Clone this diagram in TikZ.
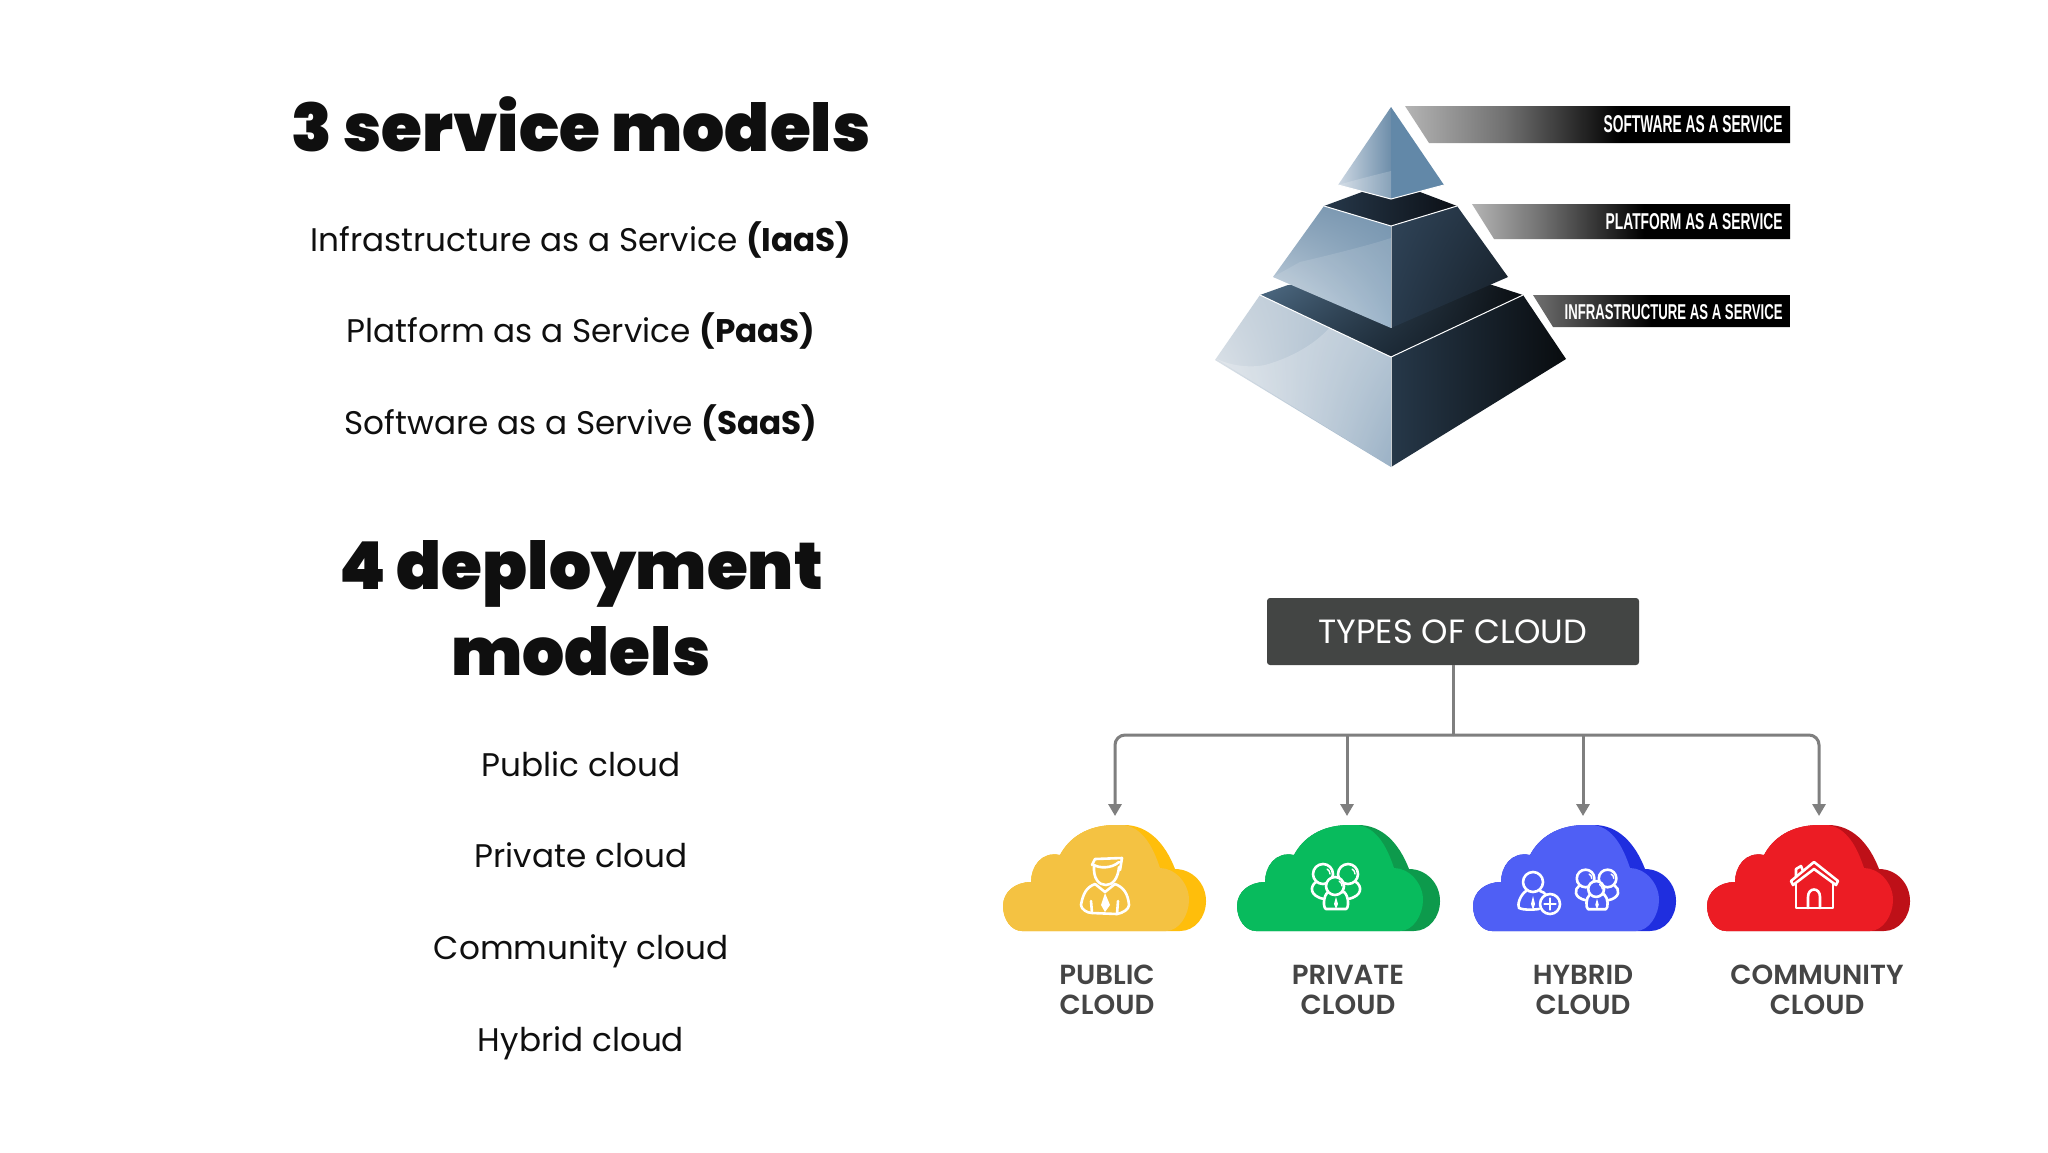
\documentclass[tikz,border=0pt]{standalone}
\usepackage{fontspec}
\usepackage{graphicx}
\setmainfont{Poppins}
\newfontfamily\pheavy{Poppins Black}
\newfontfamily\pbold{Poppins Bold}
\newfontfamily\pmed{Poppins SemiBold}
\newfontfamily\bannerfont{Liberation Sans Bold}
\usetikzlibrary{arrows.meta,shadings}
\definecolor{bandL}{HTML}{B4B4B4}
\definecolor{bandM}{HTML}{707070}
\definecolor{inkc}{HTML}{0F0F0F}
\definecolor{boxc}{HTML}{434544}
\definecolor{linec}{HTML}{7F7F7F}
\definecolor{labelc}{HTML}{454545}
\definecolor{yelD}{HTML}{FFBE0B}\definecolor{yelL}{HTML}{F4C242}
\definecolor{grnD}{HTML}{0D9A4C}\definecolor{grnL}{HTML}{08BB5D}
\definecolor{bluD}{HTML}{1F2EDF}\definecolor{bluL}{HTML}{4F5FF5}
\definecolor{redD}{HTML}{BE1018}\definecolor{redL}{HTML}{EC1C24}
\definecolor{pa}{HTML}{4F6C85}\definecolor{pb}{HTML}{0A0E12}\definecolor{pc}{HTML}{2C4358}
\definecolor{pd}{HTML}{CBD5DE}\definecolor{pe}{HTML}{AEC0D0}\definecolor{pf}{HTML}{EEF0F3}\definecolor{pg}{HTML}{7F9CB6}
\definecolor{ph}{HTML}{263849}\definecolor{pi}{HTML}{090C0F}
\definecolor{pj}{HTML}{26384A}\definecolor{pk}{HTML}{0C1016}
\definecolor{pl}{HTML}{829DB5}\definecolor{pm}{HTML}{7694AE}\definecolor{pn}{HTML}{D4DEE7}\definecolor{po}{HTML}{8EAAC2}
\definecolor{pp}{HTML}{304458}\definecolor{pq}{HTML}{202E3C}\definecolor{pr}{HTML}{283A4C}\definecolor{ps}{HTML}{141C24}
\definecolor{pt}{HTML}{CDD8E3}\definecolor{pu}{HTML}{6E8EAA}\definecolor{pv}{HTML}{6288A8}
\newcommand\fitbox[3]{\resizebox{#1pt}{#2pt}{\bannerfont #3}}
\pgfdeclarehorizontalshading{banA}{100bp}{color(0bp)=(bandL);color(25bp)=(bandL);color(38bp)=(bandM);color(53bp)=(black);color(100bp)=(black)}
\pgfdeclarehorizontalshading{banB}{100bp}{color(0bp)=(bandL);color(25bp)=(bandL);color(36bp)=(bandM);color(52bp)=(black);color(100bp)=(black)}
\pgfdeclarehorizontalshading{banC}{100bp}{color(0bp)=(bandM);color(25bp)=(bandM);color(48bp)=(black);color(100bp)=(black)}
\tikzset{
 headline/.style={font=\pheavy\fontsize{33.1}{36}\selectfont,text=inkc,inner sep=0pt,anchor=center},
 bodyline/.style={font=\fontsize{16.35}{20}\selectfont,text=inkc,inner sep=0pt,anchor=base},
 cloudlabel/.style={font=\pmed\fontsize{13.8}{15}\selectfont,text=labelc,inner sep=0pt,align=center,anchor=center},
 bannertext/.style={text=white,inner sep=0pt,anchor=east},
 conn/.style={draw=linec,line width=1.5pt},
 arrowconn/.style={conn,-{Triangle[length=6pt,width=6.5pt,fill=linec]}},
 icon/.style={draw=white,line width=1.3pt,line cap=round,line join=round},
 faceedge/.style={draw=white,line width=0.5pt},
}
\newcommand\cloudshape[4]{%
 \begin{scope}[shift={(#1,#2)}]
 \fill[#3] (19,106) -- (177,106) .. controls (192,106) and (203,92) .. (203,76)
  .. controls (203,58) and (189,44) .. (172,44) .. controls (162,18) and (145,0) .. (121,0)
  -- (112,0) .. controls (84,0) and (66,13) .. (57,30) .. controls (38,26) and (28,42) .. (28,57)
  .. controls (12,57) and (0,67) .. (0,81) .. controls (0,94) and (8,106) .. (19,106) -- cycle;
 \fill[#4] (19,106) -- (163,106) .. controls (176,106) and (186,90) .. (186,75)
  .. controls (186,58) and (172,43) .. (157,43) .. controls (150,22) and (140,3) .. (121,0)
  -- (112,0) .. controls (84,0) and (66,13) .. (57,30) .. controls (38,26) and (28,42) .. (28,57)
  .. controls (12,57) and (0,67) .. (0,81) .. controls (0,94) and (8,106) .. (19,106) -- cycle;
 \end{scope}}
% #1,#2 centre, #3 scale, #4 cloud colour
\newcommand\groupicon[4]{%
 \begin{scope}[shift={(#1,#2)},x=#3*0.5pt,y=#3*-0.5pt]
 \draw[icon] (-13,-12) circle[radius=10];
 \draw[icon] (12,-12) circle[radius=10];
 \draw[icon] (-20,-4) .. controls (-26,0) and (-27,10) .. (-12,13);
 \draw[icon] (20,-4) .. controls (26,0) and (27,10) .. (12,13);
 \draw[icon,fill=#4] (-8,6) .. controls (-13,10) and (-13,22) .. (-10,23) -- (10,23) .. controls (13,22) and (13,10) .. (8,6) -- cycle;
 \draw[icon,fill=#4] (-1,0) circle[radius=9];
 \fill[white] (0,11) -- (-2,18) -- (0,23) -- (2,18) -- cycle;
 \draw[icon,line width=.7pt] (-9,-17) .. controls (-7,-16) and (-6,-14) .. (-6,-12);
 \draw[icon,line width=.7pt] (16,-17) .. controls (18,-16) and (19,-14) .. (19,-12);
 \draw[icon,line width=.7pt] (3,-5) .. controls (5,-4) and (6,-2) .. (6,0);
 \end{scope}}
\begin{document}
\begin{tikzpicture}[x=0.5pt,y=-0.5pt]
\useasboundingbox (0,0) rectangle (2048,1152);
\fill[white] (0,0) rectangle (2048,1152);
% left texts
\node[headline] (h1) at (581,124) {3 service models};
\node[bodyline] (b1) at (581,251) {Infrastructure as a Service {\pbold (IaaS)}};
\node[bodyline] (b2) at (581,342) {Platform as a Service {\pbold (PaaS)}};
\node[bodyline] (b3) at (581,434) {Software as a Servive {\pbold (SaaS)}};
\node[headline] (h2) at (581,574) {4 deployment};
\node[headline] (h3) at (581,651.5) {models};
\node[bodyline] (d1) at (581,776) {Public cloud};
\node[bodyline] (d2) at (581,867) {Private cloud};
\node[bodyline] (d3) at (581,959) {Community cloud};
\node[bodyline] (d4) at (581,1051) {Hybrid cloud};
% banners
\shade[shading=banA] (1405,106) -- (1790,106) -- (1790,143) -- (1429,143) -- cycle;
\shade[shading=banB] (1472,204) -- (1790,204) -- (1790,239) -- (1494,239) -- cycle;
\shade[shading=banC] (1533,295) -- (1790,295) -- (1790,327) -- (1553,327) -- cycle;
\node[bannertext] (s1) at (1783,124) {\fitbox{89.5}{8.5}{SOFTWARE AS A SERVICE}};
\node[bannertext] (s2) at (1783,222) {\fitbox{88.5}{8}{PLATFORM AS A SERVICE}};
\node[bannertext] (s3) at (1783,312) {\fitbox{109}{7.5}{INFRASTRUCTURE AS A SERVICE}};
% pyramid, bottom tier
\shade[upper left=pa,upper right=pb,lower left=pc,lower right=pb]
  (1260,295) -- (1288,285) -- (1486,283) -- (1523,295) -- (1391,357) -- cycle;
\shade[upper left=pd,upper right=pe,lower left=pf,lower right=pg]
  (1260,295) -- (1391,357) -- (1391,467) -- (1215,360) -- cycle;
\shade[left color=ph,right color=pi]
  (1391,357) -- (1523,295) -- (1566,359) -- (1391,467) -- cycle;
\begin{scope}
 \clip (1260,295) -- (1391,357) -- (1391,467) -- (1215,360) -- cycle;
 \fill[white,opacity=.22] (1215,358) .. controls (1230,366) and (1250,368) .. (1265,365)
   .. controls (1290,358) and (1315,345) .. (1332,325) -- (1391,357) -- (1391,467) -- cycle;
\end{scope}
% middle tier
\shade[left color=pj,right color=pk]
  (1324,206) -- (1362,192) -- (1420,192) -- (1457,206) -- (1391,226) -- cycle;
\shade[upper left=pl,upper right=pm,lower left=pn,lower right=po]
  (1324,206) -- (1391,226) -- (1391,328) -- (1273,277) -- cycle;
\shade[upper left=pp,upper right=pq,lower left=pr,lower right=ps]
  (1391,226) -- (1457,206) -- (1508,277) -- (1391,328) -- cycle;
\begin{scope}
 \clip (1324,206) -- (1391,226) -- (1391,328) -- (1273,277) -- cycle;
 \fill[white,opacity=.12] (1273,277) -- (1300,262) .. controls (1330,255) and (1370,245) .. (1391,238) -- (1391,328) -- cycle;
\end{scope}
% top tier
\shade[left color=pt,right color=pu] (1391,107) -- (1391,199) -- (1338,185) -- cycle;
\fill[pv] (1391,107) -- (1444,185) -- (1391,199) -- cycle;
\fill[white,opacity=.18] (1338,185) .. controls (1355,180) and (1375,175) .. (1391,171) -- (1391,199) -- cycle;
% pyramid edges
\draw[faceedge] (1260,295) -- (1391,357) -- (1523,295);
\draw[faceedge,opacity=.75] (1391,357) -- (1391,467);
\draw[faceedge] (1324,206) -- (1391,226) -- (1457,206);
\draw[faceedge,opacity=.6] (1391,226) -- (1391,328);
\draw[faceedge] (1338,185) -- (1391,199) -- (1444,185);
% chart
\node[fill=boxc,draw=none,rounded corners=1.5pt,minimum width=186pt,minimum height=33.5pt,inner sep=0pt,
      text=white,font=\fontsize{16.8}{18}\selectfont] (types) at (1453,631.5) {\raisebox{-1.6pt}{TYPES OF CLOUD}};
\coordinate (bus) at (1453,735);
\coordinate (tip1) at (1115,816);
\coordinate (tip2) at (1347,816);
\coordinate (tip3) at (1583,816);
\coordinate (tip4) at (1819,816);
\draw[conn] (types.south) -- (bus);
\draw[arrowconn,rounded corners=5pt] (bus) -| (tip1);
\draw[arrowconn] (bus -| tip2) -- (tip2);
\draw[arrowconn] (bus -| tip3) -- (tip3);
\draw[arrowconn,rounded corners=5pt] (bus) -| (tip4);
% clouds
\cloudshape{1003}{825}{yelD}{yelL}
\cloudshape{1237}{825}{grnD}{grnL}
\cloudshape{1473}{825}{bluD}{bluL}
\cloudshape{1707}{825}{redD}{redL}
% public icon
\begin{scope}[shift={(1003,825)}]
 \draw[icon] (89,40) -- (92,34) -- (119,33) -- (117,45);
 \draw[icon] (91,40) .. controls (96,43) and (108,44) .. (116,37);
 \draw[icon] (91,40) .. controls (90,54) and (96,60) .. (103,60) .. controls (110,60) and (115,53) .. (116,42);
 \draw[icon] (92,59) .. controls (84,62) and (80,68) .. (78,80) .. controls (78,84) and (84,88) .. (89,88)
   -- (114,89) .. controls (120,88) and (126,84) .. (126,80) .. controls (125,68) and (120,62) .. (112,59);
 \draw[icon] (92,59) -- (102,67) -- (112,59);
 \fill[white] (102,68) -- (98,80) -- (102,87) -- (107,80) -- cycle;
 \draw[icon] (89,88) -- (88,76);
 \draw[icon] (114,89) -- (115,76);
\end{scope}
% private icon
\groupicon{1336}{886}{1}{grnL}
% hybrid icons
\begin{scope}[shift={(1473,825)}]
 \draw[icon] (60,57) circle[radius=10];
 \draw[icon] (53,66) .. controls (47,70) and (44,80) .. (46,83) .. controls (50,85) and (58,85) .. (66,84);
 \draw[icon] (67,66) .. controls (70,67) and (72,68) .. (73,70);
 \fill[white] (60,71) -- (58,79) -- (60,85) -- (62,79) -- cycle;
 \draw[icon] (77,79) circle[radius=10];
 \draw[icon] (71.5,79) -- (82.5,79);
 \draw[icon] (77,73.5) -- (77,84.5);
\end{scope}
\groupicon{1597}{889}{.88}{bluL}
% community icon
\begin{scope}[shift={(1707,825)}]
 \draw[icon] (84,56) -- (107,37) -- (131,56) -- (129,60) -- (107,44) -- (86,60) -- cycle;
 \draw[icon] (89,52) -- (89,44) -- (94,41) -- (96,46);
 \draw[icon] (89,59) -- (89,83) -- (126,83) -- (126,59);
 \draw[icon] (101,83) -- (101,72) .. controls (101,62) and (113,62) .. (113,72) -- (113,83);
\end{scope}
% cloud labels
\node[cloudlabel] (l1) at (1107,990) {PUBLIC\\CLOUD};
\node[cloudlabel] (l2) at (1348,990) {PRIVATE\\CLOUD};
\node[cloudlabel] (l3) at (1583,990) {HYBRID\\CLOUD};
\node[cloudlabel] (l4) at (1817,990) {COMMUNITY\\CLOUD};
\end{tikzpicture}
\end{document}
